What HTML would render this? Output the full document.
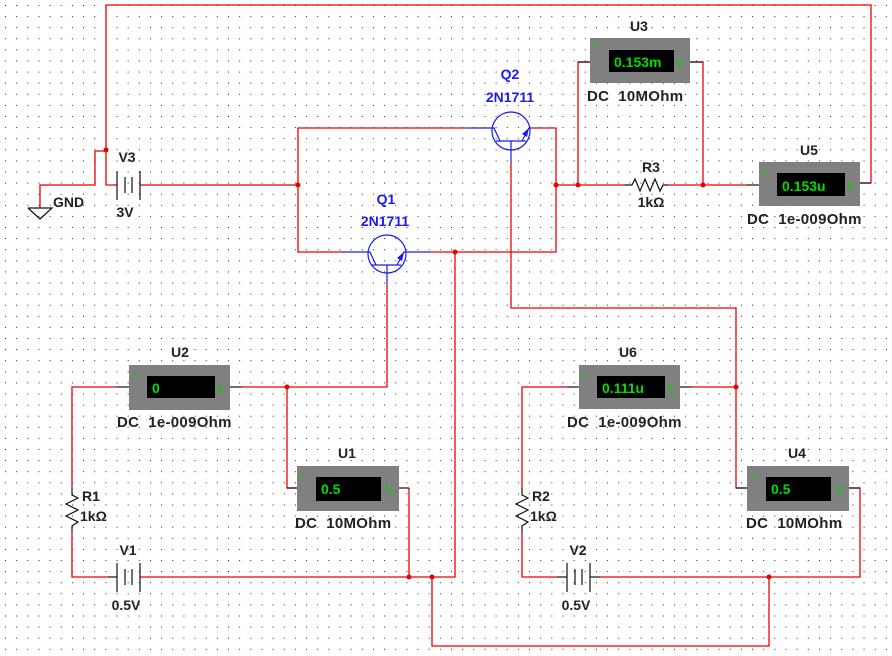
<!DOCTYPE html>
<html><head><meta charset="utf-8"><style>
body{margin:0;background:#fff}
svg{display:block}
text{font-family:"Liberation Sans",Arial,sans-serif;font-weight:bold;font-size:14px;fill:#222;white-space:pre}
.b{fill:#1a1aee}
.g{fill:#00dd00;font-size:14px}
.s{fill:#00cc00;font-size:10px;font-weight:normal}
.dc{font-size:15px;letter-spacing:0.3px}
</style></head><body>
<svg width="892" height="656" viewBox="0 0 892 656" xmlns="http://www.w3.org/2000/svg">
<defs><pattern id="d" x="5" y="5" width="11.15" height="11.1" patternUnits="userSpaceOnUse"><rect width="1" height="1" fill="#222"/></pattern></defs>
<rect width="892" height="656" fill="url(#d)"/>
<g fill="none" stroke="#e00" stroke-width="1.3">
<polyline points="106,150 106,5 871,5 871,183 860,183"/>
<polyline points="40,208 40,185 95,185 95,151 106,151 106,185 117,185"/>
<polyline points="140,185 298,185"/>
<polyline points="298,185 298,128 467,128"/>
<polyline points="298,185 298,252 341,252"/>
<polyline points="432,252 556,252 556,128 531,128"/>
<polyline points="556,185 625,185"/>
<polyline points="578,185 578,62 590,62"/>
<polyline points="690,62 703,62 703,185"/>
<polyline points="668,185 747,185"/>
<polyline points="387,285 387,387 242,387"/>
<polyline points="287,387 287,488 297,488"/>
<polyline points="117,387 72,387 72,488"/>
<polyline points="72,532 72,577 108,577"/>
<polyline points="140,577 455,577 455,252"/>
<polyline points="409,488 409,577"/>
<polyline points="432,577 432,646 769,646 769,577"/>
<polyline points="511,162 511,308 736,308 736,488 747,488"/>
<polyline points="692,387 736,387"/>
<polyline points="567,387 522,387 522,488"/>
<polyline points="522,533 522,577 557,577"/>
<polyline points="600,577 860,577 860,488 849,488"/>
</g>
<g fill="#e00">
<circle cx="106" cy="150" r="2.5"/><circle cx="298" cy="185" r="2.5"/><circle cx="455" cy="252" r="2.5"/>
<circle cx="556" cy="185" r="2.5"/><circle cx="578" cy="185" r="2.5"/><circle cx="703" cy="185" r="2.5"/>
<circle cx="287" cy="387" r="2.5"/><circle cx="409" cy="577" r="2.5"/><circle cx="432" cy="577" r="2.5"/>
<circle cx="736" cy="387" r="2.5"/><circle cx="769" cy="577" r="2.5"/>
</g>
<g fill="none" stroke="#111" stroke-width="1.2">
<polyline points="28,208 52,208 40,219 28,208"/>
<line x1="117" y1="171" x2="117" y2="200"/><line x1="125" y1="177" x2="125" y2="193"/><line x1="132" y1="177" x2="132" y2="193"/><line x1="140" y1="171" x2="140" y2="200"/>
<line x1="108" y1="577" x2="117" y2="577"/><line x1="117" y1="563" x2="117" y2="592"/><line x1="125" y1="569" x2="125" y2="585"/><line x1="132" y1="569" x2="132" y2="585"/><line x1="140" y1="563" x2="140" y2="592"/>
<line x1="557" y1="577" x2="567" y2="577"/><line x1="567" y1="563" x2="567" y2="592"/><line x1="575" y1="569" x2="575" y2="585"/><line x1="582" y1="569" x2="582" y2="585"/><line x1="590" y1="563" x2="590" y2="592"/><line x1="590" y1="577" x2="600" y2="577"/>
<polyline points="625,185 632,185 635,179 640,191 645,179 650,191 655,179 660,191 663,185 668,185"/>
<polyline points="72,488 72,495 78,498 66,504 78,510 66,516 78,522 72,526 72,532"/>
<polyline points="522,488 522,495 528,498 516,504 528,510 516,516 528,522 522,526 522,533"/>
<line x1="578" y1="62" x2="590" y2="62"/><line x1="690" y1="62" x2="703" y2="62"/>
<line x1="747" y1="185" x2="759" y2="185"/><line x1="860" y1="183" x2="871" y2="183"/>
<line x1="117" y1="387" x2="129" y2="387"/><line x1="230" y1="387" x2="242" y2="387"/>
<line x1="567" y1="387" x2="579" y2="387"/><line x1="680" y1="387" x2="692" y2="387"/>
<line x1="287" y1="488" x2="297" y2="488"/><line x1="399" y1="488" x2="409" y2="488"/>
<line x1="736" y1="488" x2="747" y2="488"/><line x1="849" y1="488" x2="860" y2="488"/>
</g>
<g fill="none" stroke="#1a1aee" stroke-width="1.2">
<circle cx="387" cy="254" r="19"/>
<polyline points="341,252 370,252 376,265"/><line x1="372" y1="265" x2="401" y2="265"/><polyline points="397,265 404,252 432,252"/>
<line x1="387" y1="265" x2="387" y2="285"/>
<circle cx="511" cy="131" r="19"/>
<polyline points="467,128 494,128 500,141"/><line x1="496" y1="141" x2="526" y2="141"/><polyline points="522,141 529,128 531,128"/>
<line x1="511" y1="141" x2="511" y2="162"/>
</g>
<polygon points="404,252 397,258 402,261" fill="#1a1aee"/>
<polygon points="529,128 522,134 527,137" fill="#1a1aee"/>
<g fill="#808080">
<rect x="590" y="38" width="100" height="45"/><rect x="759" y="162" width="101" height="44"/>
<rect x="129" y="365" width="101" height="45"/><rect x="297" y="466" width="102" height="45"/>
<rect x="579" y="365" width="101" height="44"/><rect x="747" y="466" width="102" height="45"/>
</g>
<g fill="#000">
<rect x="609" y="50" width="65" height="22"/><rect x="777" y="173" width="68" height="23"/>
<rect x="147" y="376" width="68" height="22"/><rect x="316" y="477" width="65" height="24"/>
<rect x="597" y="376" width="68" height="22"/><rect x="766" y="477" width="65" height="24"/>
</g>
<text class="g" x="614" y="67">0.153m</text><text class="g" x="782" y="191">0.153u</text>
<text class="g" x="152" y="393">0</text><text class="g" x="321" y="494">0.5</text>
<text class="g" x="602" y="393">0.111u</text><text class="g" x="771" y="494">0.5</text>
<text class="s" x="676" y="67" style="font-size:12px">V</text><text class="s" x="847" y="190">A</text>
<text class="s" x="217" y="392">A</text><text class="s" x="385" y="494" style="font-size:12px">V</text>
<text class="s" x="667" y="392">A</text><text class="s" x="835" y="494" style="font-size:12px">V</text>
<text class="s" x="593" y="50">+</text><text class="s" x="683" y="49">-</text>
<text class="s" x="762" y="174">+</text><text class="s" x="852" y="172">-</text>
<text class="s" x="132" y="377">+</text><text class="s" x="220" y="375">-</text>
<text class="s" x="300" y="478">+</text><text class="s" x="387" y="477">-</text>
<text class="s" x="582" y="377">+</text><text class="s" x="670" y="375">-</text>
<text class="s" x="750" y="478">+</text><text class="s" x="837" y="477">-</text>
<text x="639" y="31" text-anchor="middle">U3</text><text x="809" y="155" text-anchor="middle">U5</text>
<text x="180" y="357" text-anchor="middle">U2</text><text x="347" y="458" text-anchor="middle">U1</text>
<text x="628" y="357" text-anchor="middle">U6</text><text x="797" y="458" text-anchor="middle">U4</text>
<text class="dc" x="587" y="101">DC  10MOhm</text><text class="dc" x="747" y="224">DC  1e-009Ohm</text>
<text class="dc" x="117" y="427">DC  1e-009Ohm</text><text class="dc" x="295" y="528">DC  10MOhm</text>
<text class="dc" x="567" y="427">DC  1e-009Ohm</text><text class="dc" x="746" y="528">DC  10MOhm</text>
<text x="53" y="207">GND</text><text x="127" y="162" text-anchor="middle">V3</text><text x="125" y="217" text-anchor="middle">3V</text>
<text x="651" y="172" text-anchor="middle">R3</text><text x="651" y="207" text-anchor="middle">1kΩ</text>
<text x="82" y="501">R1</text><text x="80" y="521">1kΩ</text>
<text x="532" y="501">R2</text><text x="530" y="521">1kΩ</text>
<text x="128" y="555" text-anchor="middle">V1</text><text x="126" y="610" text-anchor="middle">0.5V</text>
<text x="578" y="555" text-anchor="middle">V2</text><text x="576" y="610" text-anchor="middle">0.5V</text>
<text class="b" x="386" y="204" text-anchor="middle">Q1</text><text class="b" x="385" y="226" text-anchor="middle">2N1711</text>
<text class="b" x="510" y="79" text-anchor="middle">Q2</text><text class="b" x="510" y="102" text-anchor="middle">2N1711</text>
</svg>
</body></html>
